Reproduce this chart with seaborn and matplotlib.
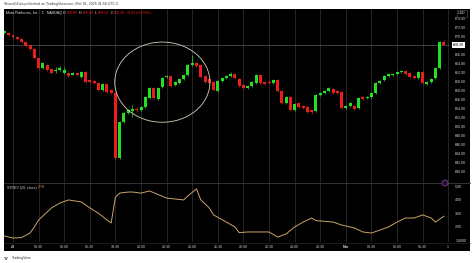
import matplotlib
matplotlib.use("Agg")
import numpy as np
import pandas as pd
import matplotlib.pyplot as plt
import seaborn as sns
from matplotlib.patches import Ellipse, Rectangle
from matplotlib.lines import Line2D
import matplotlib.transforms as mtransforms

# ---------------- data ----------------
opens = [670.9, 670.9, 670.4, 670.0, 669.6, 668.9, 668.1, 667.4, 665.2, 663.1,
         663.8, 662.9, 662.5, 662.7, 661.9, 662.0, 661.6, 661.9, 661.1, 662.2,
         660.3, 660.1, 659.7, 658.1, 659.5, 658.1, 657.5, 643.0, 651.0, 653.0,
         653.5, 653.9, 653.7, 654.4, 656.4, 658.6, 656.2, 658.9, 661.1, 661.3,
         659.3, 659.8, 660.6, 661.5, 663.7, 664.2, 663.7, 661.3, 660.6, 659.9,
         657.9, 660.2, 660.8, 661.3, 661.7, 660.6, 659.2, 658.6, 659.0, 659.7,
         661.5, 659.9, 659.9, 659.7, 660.4, 657.9, 655.3, 656.6, 653.7, 655.3,
         654.6, 654.4, 653.7, 653.5, 657.0, 657.5, 657.9, 658.4, 657.9, 657.7,
         654.1, 654.6, 654.6, 654.1, 656.6, 656.4, 656.6, 657.5, 659.7, 660.4,
         661.3, 661.5, 661.7, 662.2, 662.4, 662.0, 661.3, 660.8, 662.2, 659.5,
         659.9, 660.8, 663.1, 668.85]
highs = [671.5, 671.1, 670.6, 670.2, 669.8, 669.1, 668.3, 667.6, 665.4, 664.5,
         664.0, 663.1, 663.2, 663.4, 663.3, 662.2, 662.1, 662.1, 662.4, 662.4,
         660.5, 660.3, 659.9, 659.7, 659.7, 658.3, 657.7, 651.2, 653.2, 653.9,
         654.8, 654.3, 654.6, 656.8, 658.8, 658.8, 658.8, 661.0, 661.6, 661.5,
         660.1, 660.9, 661.7, 663.9, 666.0, 664.5, 663.9, 661.5, 660.8, 660.1,
         660.4, 661.0, 661.5, 662.2, 661.9, 660.8, 659.4, 659.2, 660.1, 661.7,
         661.7, 660.1, 660.3, 660.6, 660.6, 658.1, 656.8, 656.8, 655.2, 655.5,
         654.8, 654.6, 653.9, 657.2, 657.7, 658.1, 658.8, 658.6, 658.1, 657.9,
         654.8, 655.5, 654.8, 656.6, 656.8, 656.8, 657.7, 659.9, 660.4, 661.5,
         661.9, 661.9, 662.4, 662.6, 662.6, 662.2, 661.5, 662.4, 662.4, 660.1,
         660.8, 663.3, 669.1, 669.4]
lows = [670.7, 670.3, 669.8, 669.4, 668.6, 667.8, 667.1, 665.1, 662.9, 662.9,
        662.5, 661.7, 662.0, 662.5, 661.7, 661.1, 661.4, 661.3, 660.9, 659.7,
        659.7, 659.5, 657.9, 657.9, 657.5, 657.3, 642.8, 642.8, 650.8, 652.8,
        652.1, 653.2, 653.5, 654.2, 656.2, 656.2, 656.0, 658.7, 660.9, 658.8,
        659.1, 659.6, 660.4, 661.3, 663.5, 663.3, 660.8, 659.7, 659.5, 657.9,
        657.7, 660.0, 660.6, 661.1, 660.6, 658.8, 658.4, 658.4, 658.8, 659.5,
        659.5, 659.3, 659.5, 659.5, 657.7, 655.1, 655.1, 653.5, 653.5, 654.2,
        653.9, 653.0, 652.9, 653.3, 656.8, 657.3, 657.7, 657.3, 657.3, 653.9,
        653.9, 654.4, 653.7, 653.9, 655.9, 656.2, 656.4, 657.3, 659.5, 660.2,
        661.1, 661.3, 661.5, 662.0, 661.5, 660.9, 660.6, 660.6, 659.5, 659.3,
        659.7, 660.6, 662.9, 668.1]
closes = [671.3, 670.4, 670.0, 669.5, 668.8, 668.0, 667.3, 665.3, 663.1, 664.2,
          662.7, 661.9, 662.7, 663.0, 662.7, 661.3, 661.9, 661.5, 662.2, 659.9,
          659.9, 659.7, 658.1, 659.5, 657.7, 657.5, 643.0, 651.0, 653.0, 653.7,
          653.9, 653.7, 654.4, 656.6, 658.6, 656.4, 658.6, 660.8, 661.3, 659.0,
          659.9, 660.7, 661.5, 663.7, 664.2, 663.5, 661.0, 659.9, 659.7, 658.1,
          660.2, 660.8, 661.3, 661.7, 660.8, 659.0, 658.6, 659.0, 659.9, 661.5,
          659.7, 659.5, 659.7, 660.4, 657.9, 655.3, 656.6, 653.7, 655.0, 654.4,
          654.1, 653.2, 653.2, 657.0, 657.5, 657.9, 658.6, 657.5, 657.5, 654.1,
          654.6, 655.3, 653.9, 656.4, 656.1, 656.6, 657.5, 659.7, 660.2, 661.3,
          661.7, 661.7, 662.2, 662.4, 661.7, 661.1, 660.8, 662.2, 659.7, 659.9,
          660.6, 663.1, 668.9, 668.28]

stdev_idx = [0, 2, 4, 6, 7, 8, 11, 13, 15, 18, 20, 22, 24, 25, 26, 27, 29, 30,
             32, 34, 38, 42, 43, 45, 46, 48, 49, 52, 54, 55, 57, 62, 64, 66, 68,
             70, 72, 73, 77, 79, 82, 84, 86, 90, 92, 94, 96, 98, 100, 101, 103]
stdev_val = [1.30, 1.15, 1.18, 1.52, 1.97, 2.49, 3.39, 3.76, 3.99, 3.84, 3.40,
             3.00, 2.50, 2.27, 4.20, 4.50, 4.58, 4.58, 4.50, 4.66, 4.13, 3.99,
             4.30, 4.81, 4.00, 3.39, 2.87, 2.34, 1.97, 1.55, 1.60, 1.60, 1.22,
             1.45, 1.97, 2.34, 2.64, 2.45, 2.34, 2.12, 1.90, 1.60, 1.52, 1.97,
             2.34, 2.64, 2.64, 2.87, 2.64, 2.34, 2.78]

time_tick_idx = [2, 8, 14, 20, 26, 32, 38, 44, 50, 56, 62, 68, 74, 80, 86, 92, 98, 104]
time_tick_labels = ["28", "00:30", "01:00", "01:30", "19:30", "20:00", "20:30",
                    "21:00", "21:30", "22:00", "22:30", "23:00", "23:30", "Mar",
                    "00:30", "01:00", "01:30", "1"]
# 668.00 is hidden behind the last-price label in the reference
price_ticks = [674, 672, 670, 666, 664, 662, 660, 658, 656, 654, 652, 650,
               648, 646, 644, 642, 640]
stdev_ticks = [5, 4, 3, 2, 1]
stdev_tick_labels = ["5.00", "4.00", "3.00", "2.00", "1.0000"]
last_price = 668.28
last_stdev = "2.78"
legend_values = [("O", "668.85"), ("H", "669.40"), ("L", "668.10"), ("C", "668.28")]
legend_change = "−0.62 (−0.09%)"
# hand-drawn ellipse annotation (centre index, centre price, width in bars, height in $)
ell_center = (37.0, 659.9)
ell_size = (22.3, 17.9)

# ---------------- style ----------------
sns.set_theme(style="dark")
plt.rcParams["font.family"] = ["Liberation Sans", "DejaVu Sans"]
GREEN = "#22e022"
RED = "#ea1f1c"
TXT = "#d1d4dc"
GRID = "#2a2a2a"
FS = 2.6

W, H = 474, 263
fig = plt.figure(figsize=(W / 100, H / 100), dpi=100, facecolor="white")


def fx(px):
    return px / W


def fy(py):
    return 1 - py / H


# black chart background
fig.add_artist(Rectangle((fx(4), fy(251)), fx(466), (251 - 9) / H,
                         transform=fig.transFigure, facecolor="black",
                         edgecolor="none", zorder=0))

ax_p = fig.add_axes([fx(4), fy(183), 446 / W, (183 - 9) / H])
ax_s = fig.add_axes([fx(4), fy(242), 446 / W, (242 - 183) / H])

df = pd.DataFrame({"open": opens, "high": highs, "low": lows, "close": closes})
df["idx"] = np.arange(len(df))
df["up"] = df["close"] >= df["open"]
df["color"] = np.where(df["up"], GREEN, RED)
df["bottom"] = df[["open", "close"]].min(axis=1)
df["height"] = np.maximum((df["close"] - df["open"]).abs(), 0.2)

for ax in (ax_p, ax_s):
    ax.set_facecolor("black")
    for s in ax.spines.values():
        s.set_visible(False)
    ax.set_xlim(-0.11, 104.41)
    ax.set_xticks(time_tick_idx)
    ax.grid(axis="x", color=GRID, lw=0.6)
    ax.grid(axis="y", visible=False)
    ax.set_xlabel("")
    ax.set_ylabel("")

# candles
ax_p.vlines(df["idx"], df["low"], df["high"], colors=df["color"], lw=0.5, zorder=3)
ax_p.bar(df["idx"], df["height"], bottom=df["bottom"], width=0.7,
         color=df["color"], linewidth=0, zorder=4)
ax_p.set_ylim(637.39, 676.23)
ax_p.set_yticks(price_ticks)
ax_p.set_yticklabels([f"{v:.2f}" for v in price_ticks])
ax_p.yaxis.tick_right()
ax_p.tick_params(axis="y", length=0, pad=3.8, labelsize=FS, labelcolor=TXT)
ax_p.tick_params(axis="x", length=0, labelbottom=False)
ax_p.axhline(last_price, color="#6e6e6e", lw=0.4, zorder=2)
ax_p.add_patch(Ellipse(ell_center, ell_size[0], ell_size[1], facecolor="none",
                       edgecolor="#d8d0ba", lw=0.6, zorder=5))
trans = mtransforms.blended_transform_factory(ax_p.transAxes, ax_p.transData)
ax_p.text(1.0075, last_price, f"{last_price:.2f}", transform=trans, fontsize=FS,
          color="black", va="center", ha="left", clip_on=False,
          bbox=dict(boxstyle="square,pad=0.25", fc="white", ec="none"))

# STDEV pane
sns.lineplot(x=stdev_idx, y=stdev_val, ax=ax_s, color="#c9a468", lw=0.7)
ax_s.set_ylim(0.851, 5.254)
ax_s.set_yticks(stdev_ticks)
ax_s.set_yticklabels(stdev_tick_labels)
ax_s.yaxis.tick_right()
ax_s.tick_params(axis="y", length=0, pad=3.8, labelsize=FS, labelcolor=TXT)
ax_s.set_xticklabels(time_tick_labels)
ax_s.tick_params(axis="x", length=0, pad=2.0, labelsize=FS, labelcolor=TXT)
for lab in ax_s.get_xticklabels():
    if lab.get_text() in ("28", "Mar"):
        lab.set_fontweight("bold")
ax_s.set_xlabel("")
ax_s.set_ylabel("")

# pane separators
fig.add_artist(Line2D([fx(4), fx(470)], [fy(183), fy(183)], color="#3a3a3a", lw=0.6))
fig.add_artist(Line2D([fx(4), fx(470)], [fy(242.5), fy(242.5)], color="#262626", lw=0.5))

# texts
fig.text(fx(4), fy(4.5), "Shane0Zula published on TradingView.com, Mar 01, 2025 01:58 UTC-5",
         fontsize=FS, color="#3a3a3a", va="center", ha="left")
fig.text(fx(12), fy(258.5), "TradingView", fontsize=FS, color="#3a3a3a", va="center", ha="left")
fig.text(fx(4), fy(258.5), "TV", fontsize=FS, color="#222222", va="center", ha="left",
         fontweight="bold")
fig.text(fx(462), fy(13.5), "USD", fontsize=FS, color=TXT, va="center", ha="center",
         bbox=dict(boxstyle="square,pad=0.3", fc="black", ec="#555555", lw=0.4))

renderer = fig.canvas.get_renderer()


def seq_text(x_px, y_px, pieces):
    x = fx(x_px)
    for txt, col in pieces:
        t = fig.text(x, fy(y_px), txt, fontsize=FS, color=col, va="center", ha="left")
        bb = t.get_window_extent(renderer=renderer)
        x = (bb.x1 + 1.2) / W


pieces = [("Meta Platforms, Inc. · 5 · NASDAQ", "#e8e8e8")]
for k, v in legend_values:
    pieces.append((k, "#e8e8e8"))
    pieces.append((v, RED))
pieces.append((legend_change, RED))
seq_text(6, 13, pieces)

seq_text(7, 187.5, [("STDEV (20, close)", TXT), (last_stdev, "#d99a4e")])

# small purple icon at pane boundary
fig.add_artist(Ellipse((fx(445), fy(183)), 6 / W, 6 / H, transform=fig.transFigure,
                       facecolor="#1c1024", edgecolor="#9b3fb8", lw=0.5, zorder=10))

fig.savefig("out.png", dpi=100, facecolor="white")
